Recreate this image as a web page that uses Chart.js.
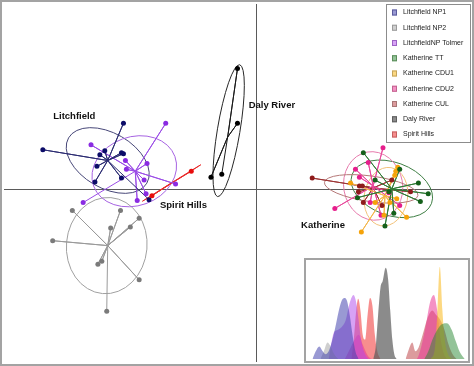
<!DOCTYPE html>
<html>
<head>
<meta charset="utf-8">
<script src="https://cdn.jsdelivr.net/npm/chart.js@4"></script>
<style>
  html, body { margin: 0; padding: 0; background: #fff; }
  #wrap { position: relative; width: 474px; height: 366px; }
  #pcaChart { position: absolute; left: 0; top: 0; }
  #inset { position: absolute; left: 304px; top: 258px; width: 166px; height: 105px;
           box-sizing: border-box; border: 2px solid #a3a3a3; background: #fff; }
  #densityChart { display: block; }
</style>
</head>
<body>
<div id="wrap">
  <canvas id="pcaChart" width="474" height="366"></canvas>
  <div id="inset"><canvas id="densityChart" width="162" height="101"></canvas></div>
</div>
<script>
const groups = ['Litchfield NP1', 'Litchfield NP2', 'LitchfieldNP Tolmer', 'Katherine TT', 'Katherine CDU1',
                'Katherine CDU2', 'Katherine CUL', 'Daly River', 'Spirit Hills'];

// PCA scores (PC1, PC2) per sample
const ptsNP1 = [[-2.17,0.40],[-1.35,0.67],[-1.59,0.35],[-1.54,0.39],[-1.37,0.37],[-1.35,0.36],[-1.62,0.23],[-1.64,0.07],[-1.37,0.11],[-1.09,-0.11]];
const ptsNP2 = [[-1.87,-0.22],[-1.38,-0.22],[-1.19,-0.30],[-1.48,-0.40],[-1.28,-0.39],[-2.07,-0.53],[-1.61,-0.77],[-1.57,-0.74],[-1.19,-0.93],[-1.52,-1.25]];
const ptsTolmer = [[-0.92,0.67],[-1.68,0.45],[-1.33,0.29],[-1.11,0.26],[-1.32,0.20],[-1.14,0.09],[-0.82,0.05],[-1.12,-0.05],[-1.21,-0.12],[-1.76,-0.14]];
const ptsTT = [[1.09,0.37],[1.46,0.20],[1.21,0.09],[1.65,0.06],[1.75,-0.05],[1.67,-0.13],[1.03,-0.09],[1.40,-0.25],[1.31,-0.38],[1.35,-0.03]];
const ptsCDU1 = [[0.96,0.06],[1.42,0.18],[1.41,0.14],[1.44,0.22],[1.43,-0.10],[1.53,-0.29],[1.21,-0.14],[1.30,-0.27],[1.07,-0.44],[1.36,-0.14]];
const ptsCDU2 = [[1.29,0.42],[1.14,0.27],[1.01,0.20],[1.05,0.12],[0.80,-0.20],[1.16,-0.14],[1.46,-0.17],[1.27,-0.27],[1.35,-0.04]];
const ptsCUL = [[0.57,0.11],[1.05,0.03],[1.04,-0.03],[1.09,-0.14],[1.28,-0.17],[1.38,0.09],[1.57,-0.03],[1.08,0.03]];
const ptsDaly = [[-0.19,1.23],[-0.19,0.67],[-0.46,0.12],[-0.35,0.15]];
const ptsSpirit = [[-1.06,-0.07],[-0.66,0.18]];
const allPts = [ptsNP1, ptsNP2, ptsTolmer, ptsTT, ptsCDU1, ptsCDU2, ptsCUL, ptsDaly, ptsSpirit];

// group centroids (star centres)
const centroidX = [-1.51, -1.51, -1.23, 1.38, 1.31, 1.19, 1.19, -0.29, -0.86];
const centroidY = [0.29, -0.58, 0.18, 0.00, -0.07, 0.03, 0.01, 0.53, 0.06];

// confidence ellipses: centre, semi axes, angle of major axis (deg)
const ellipseX = [-1.51, -1.52, -1.24, 1.38, 1.32, 1.19, 1.17, -0.28, -0.86];
const ellipseY = [0.29, -0.58, 0.18, 0.00, -0.08, 0.03, 0.00, 0.595, 0.06];
const ellipseA = [0.46, 0.49, 0.44, 0.43, 0.30, 0.35, 0.48, 0.68, 0.35];
const ellipseB = [0.28, 0.41, 0.35, 0.27, 0.22, 0.30, 0.13, 0.115, 0.002];
const ellipseAngle = [-30, 85, 20, -20, 80, 100, -8, 80.5, 32];

// site labels
const labelText = ['Litchfield', 'Daly River', 'Spirit Hills', 'Katherine'];
const labelX = [-1.85, 0.16, -0.74, 0.68];
const labelY = [0.74, 0.855, -0.17, -0.375];

// density inset (relative position, density)
const densNP1 = [[4,0],[6,0.08],[8.2,0.13],[10.3,0.08],[12,0.05],[14,0.08],[16,0.18],[18,0.32],[20,0.48],[22,0.6],[23.6,0.63],[25.3,0.6],[27,0.45],[28.7,0.25],[30.5,0.08],[32.5,0]];
const densNP2 = [[9,0],[11,0.08],[13.3,0.17],[15.5,0.12],[17.5,0.05],[20,0]];
const densTolmer = [[14,0],[15.5,0.15],[17.4,0.28],[19.5,0.3],[22,0.33],[24.5,0.4],[27,0.58],[29.3,0.66],[31,0.58],[32.5,0.4],[34,0.2],[36,0.07],[38.5,0]];
const densTT = [[73,0],[75.5,0.08],[78,0.2],[81,0.3],[84,0.36],[87,0.37],[90,0.3],[92.5,0.18],[95,0.07],[98,0]];
const densCDU1 = [[77,0],[79.5,0.1],[81,0.45],[82.6,0.95],[84.2,0.5],[85.5,0.22],[87.5,0.06],[90,0]];
const densCDU2 = [[24,0],[27,0.1],[30,0.2],[32.5,0.25],[35,0.15],[38,0.04],[41,0],[68,0],[71,0.12],[74,0.35],[76.5,0.58],[78.9,0.66],[81,0.5],[83,0.22],[85,0.06],[87,0]];
const densCUL = [[61.5,0],[63.5,0.1],[65.6,0.17],[67.5,0.08],[69.5,0.12],[72,0.25],[75,0.42],[77.9,0.5],[80.5,0.45],[83,0.4],[85.5,0.3],[88,0.15],[90.5,0.05],[93,0]];
const densDaly = [[41.5,0],[43,0.12],[44.5,0.45],[46,0.74],[47.3,0.8],[49.2,0.94],[50.7,0.82],[52,0.5],[53.3,0.2],[54.5,0.05],[56,0]];
const densSpirit = [[28,0],[29.5,0.2],[31,0.5],[32.2,0.62],[33.6,0.5],[35,0.25],[36.5,0.2],[38,0.45],[39.5,0.63],[41,0.55],[42.5,0.25],[44,0.08],[46,0]];
const allDens = [densNP1, densNP2, densTolmer, densTT, densCDU1, densCDU2, densCUL, densDaly, densSpirit];

// colours
const pointColors = ['#0c0c68', '#7a7a7a', '#8a2be2', '#14601a', '#f5a30a', '#e61e8c', '#8e1b1b', '#000000', '#e80c0c'];
const lineColors = ['#2c2c72', '#9a9a9a', '#9b4de6', '#2f7a35', '#f3b548', '#e8489c', '#9c3434', '#1a1a1a', '#e82a2a'];
const ellipseColors = ['#474778', '#a0a0a0', '#a662e2', '#3f7f45', '#f2c27a', '#e67aac', '#b57878', '#262626', '#e82a2a'];
const densityFill = ['rgba(70,70,175,0.55)', 'rgba(160,160,160,0.5)', 'rgba(175,70,235,0.5)', 'rgba(40,135,50,0.5)',
                     'rgba(250,190,45,0.6)', 'rgba(235,55,150,0.55)', 'rgba(185,55,60,0.5)', 'rgba(90,90,90,0.7)', 'rgba(240,50,50,0.55)'];
const legendStroke = ['#5b5b9c', '#9a9a9a', '#9c62c4', '#5a8c5a', '#c4a45c', '#c2638f', '#a87676', '#5e5e5e', '#c46060'];

function toXY(list) {
  return list.map(p => ({ x: p[0], y: p[1] }));
}

// centre -> point -> centre -> point ... draws the spider lines
function starPath(i) {
  const out = [];
  allPts[i].forEach(p => {
    out.push({ x: centroidX[i], y: centroidY[i] });
    out.push({ x: p[0], y: p[1] });
  });
  return out;
}

const ellipsePlugin = {
  id: 'ellipses',
  beforeDatasetsDraw(chart) {
    const { ctx, chartArea, scales: { x, y } } = chart;
    ctx.save();
    // axes through the origin
    ctx.strokeStyle = '#5a5a5a';
    ctx.lineWidth = 1;
    const x0 = Math.round(x.getPixelForValue(0)) + 0.5;
    const y0 = Math.round(y.getPixelForValue(0)) + 0.5;
    ctx.beginPath();
    ctx.moveTo(x0, chartArea.top); ctx.lineTo(x0, chartArea.bottom);
    ctx.moveTo(chartArea.left, y0); ctx.lineTo(chartArea.right, y0);
    ctx.stroke();

    const unit = x.getPixelForValue(1) - x.getPixelForValue(0);
    for (let i = 0; i < groups.length; i++) {
      ctx.strokeStyle = ellipseColors[i];
      ctx.beginPath();
      ctx.ellipse(x.getPixelForValue(ellipseX[i]), y.getPixelForValue(ellipseY[i]),
        ellipseA[i] * unit, ellipseB[i] * unit, -ellipseAngle[i] * Math.PI / 180, 0, 2 * Math.PI);
      ctx.stroke();
    }
    ctx.restore();
  },
  afterDatasetsDraw(chart) {
    const { ctx, scales: { x, y } } = chart;
    ctx.save();
    ctx.fillStyle = '#111';
    ctx.font = "bold 9.5px 'Liberation Sans', Arial, sans-serif";
    ctx.textAlign = 'center';
    ctx.textBaseline = 'middle';
    labelText.forEach((t, i) => ctx.fillText(t, x.getPixelForValue(labelX[i]), y.getPixelForValue(labelY[i])));
    ctx.restore();
  },
  afterDraw(chart) {
    const ctx = chart.ctx;
    ctx.save();
    // legend box
    ctx.fillStyle = '#fff';
    ctx.fillRect(386, 4, 84, 139);
    ctx.strokeStyle = '#8c8c8c';
    ctx.lineWidth = 1;
    ctx.strokeRect(386.5, 4.5, 84, 138);
    ctx.font = "7px 'Liberation Sans', Arial, sans-serif";
    ctx.textBaseline = 'middle';
    groups.forEach((g, i) => {
      const cy = 12.5 + i * 15.25;
      ctx.fillStyle = '#fff';
      ctx.fillRect(392, cy - 3, 5, 6);
      ctx.fillStyle = densityFill[i];
      ctx.fillRect(392, cy - 3, 5, 6);
      ctx.strokeStyle = legendStroke[i];
      ctx.strokeRect(392.5, cy - 2.5, 4, 5);
      ctx.fillStyle = '#222';
      ctx.fillText(g, 403, cy);
    });
    // outer frame
    ctx.strokeStyle = '#a3a3a3';
    ctx.lineWidth = 2;
    ctx.strokeRect(1, 1, chart.width - 2, chart.height - 2);
    ctx.restore();
  }
};

const datasets = [];
for (let i = 0; i < groups.length; i++) {
  datasets.push({
    type: 'scatter',
    label: groups[i],
    data: toXY(allPts[i]),
    backgroundColor: pointColors[i],
    borderWidth: 0,
    pointRadius: 2.5,
    order: 0
  });
}
for (let i = 0; i < groups.length; i++) {
  datasets.push({
    type: 'line',
    label: groups[i] + ' star',
    data: starPath(i),
    borderColor: lineColors[i],
    borderWidth: 1,
    pointRadius: 0,
    tension: 0,
    fill: false,
    order: 1
  });
}

new Chart(document.getElementById('pcaChart'), {
  type: 'scatter',
  data: { datasets: datasets },
  options: {
    responsive: false,
    animation: false,
    layout: { padding: 0 },
    plugins: { legend: { display: false }, tooltip: { enabled: false } },
    scales: {
      x: { type: 'linear', min: -2.565, max: 2.175, display: false },
      y: { type: 'linear', min: -1.77, max: 1.89, display: false }
    }
  },
  plugins: [ellipsePlugin]
});

// density inset
new Chart(document.getElementById('densityChart'), {
  type: 'line',
  data: {
    datasets: groups.map((g, i) => ({
      label: g,
      data: toXY(allDens[i]),
      backgroundColor: densityFill[i],
      borderWidth: 0,
      pointRadius: 0,
      fill: 'origin',
      cubicInterpolationMode: 'monotone'
    }))
  },
  options: {
    responsive: false,
    animation: false,
    layout: { padding: 0 },
    plugins: { legend: { display: false }, tooltip: { enabled: false } },
    scales: {
      x: { type: 'linear', min: 0, max: 100, display: false },
      y: { min: -0.02, max: 1.02, display: false }
    }
  }
});
</script>
</body>
</html>
